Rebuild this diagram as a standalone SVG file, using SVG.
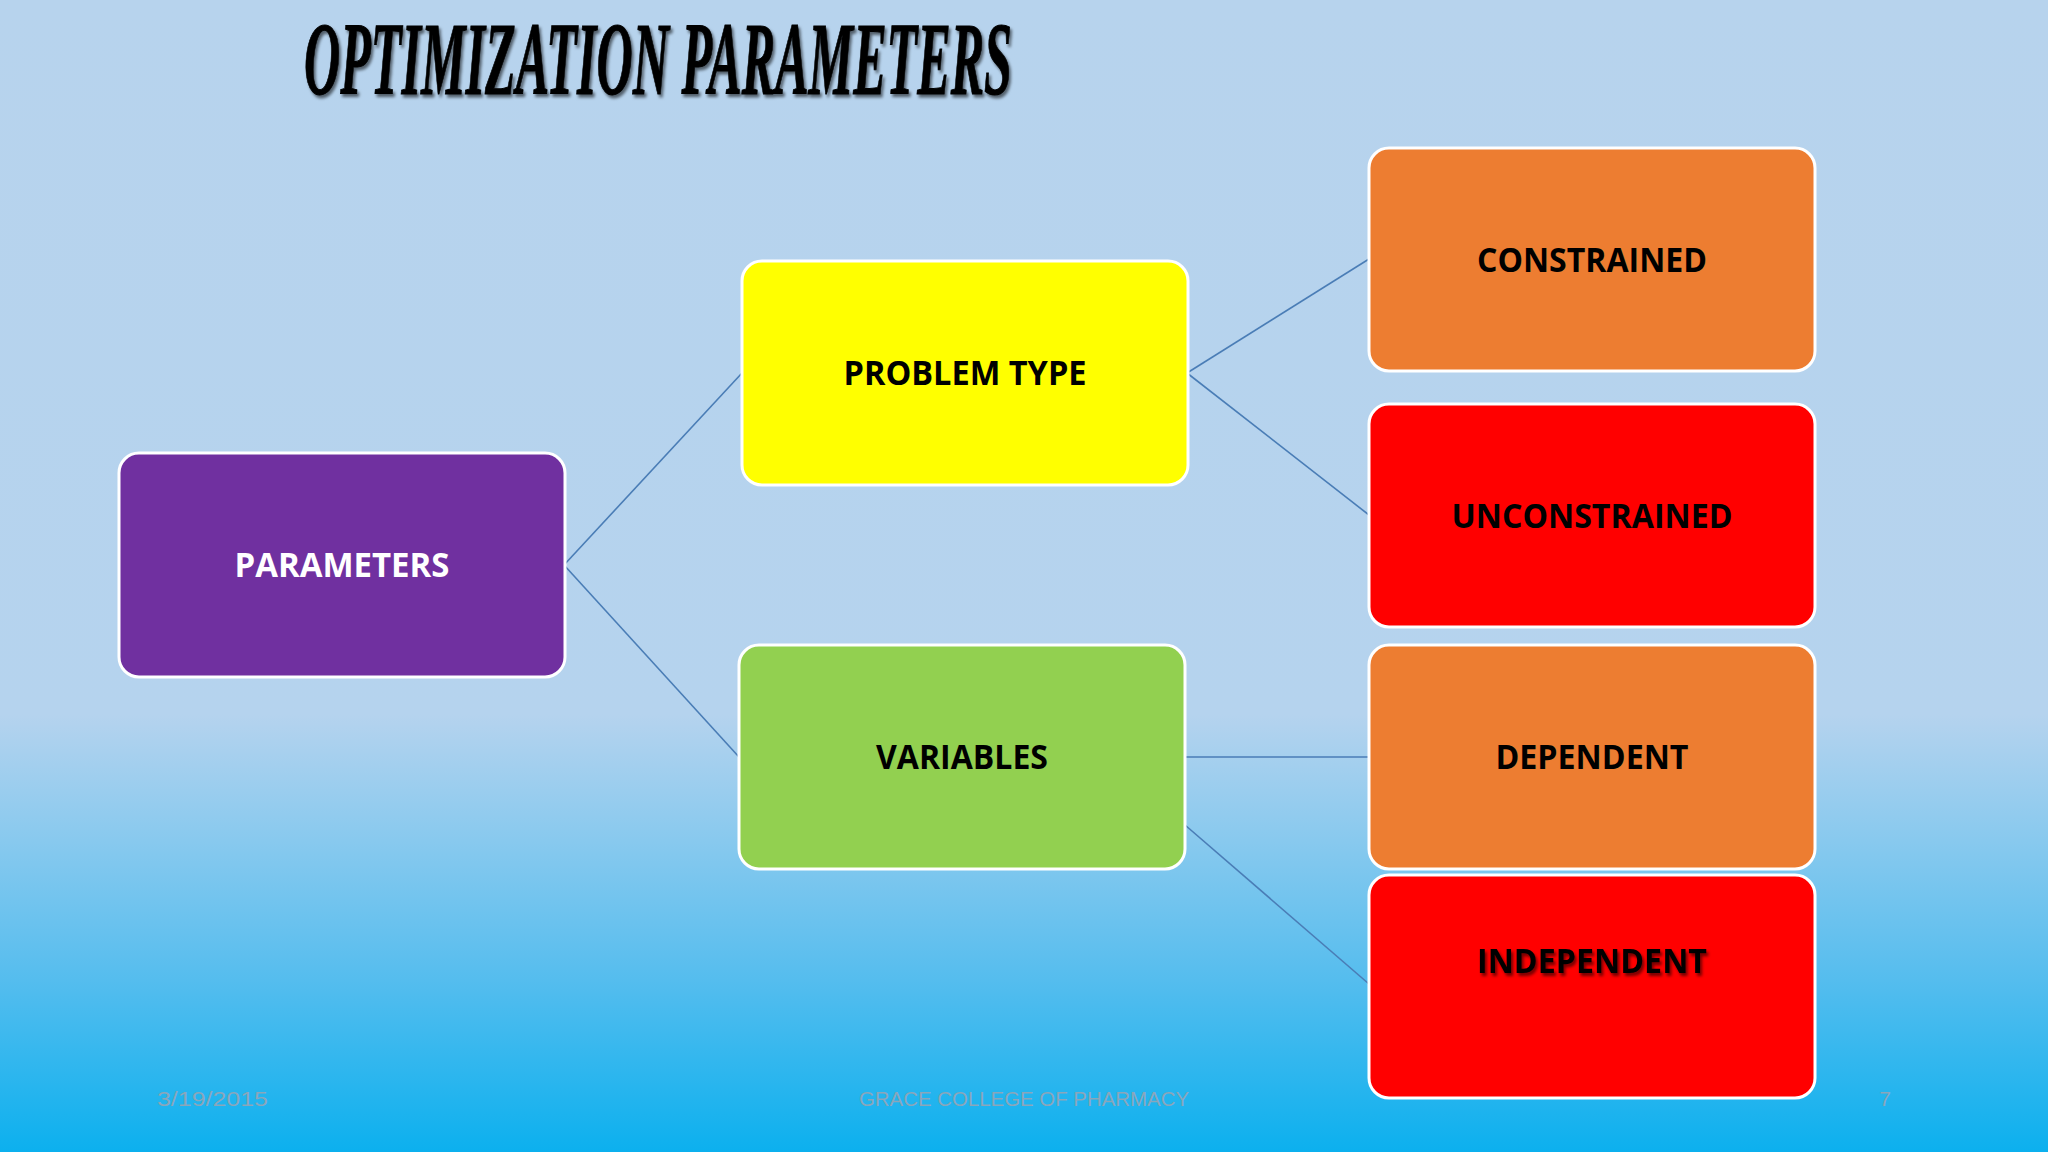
<svg xmlns="http://www.w3.org/2000/svg" width="2048" height="1152" viewBox="0 0 2048 1152">
<defs>
<linearGradient id="bg" x1="0" y1="0" x2="0" y2="1">
<stop offset="0" stop-color="#b7d3ed"/>
<stop offset="0.62" stop-color="#b5d3ee"/>
<stop offset="0.72" stop-color="#8ccaee"/>
<stop offset="0.85" stop-color="#55bdee"/>
<stop offset="1" stop-color="#0cb0ee"/>
</linearGradient>
<filter id="shadow" x="-5%" y="-20%" width="110%" height="140%">
<feGaussianBlur in="SourceAlpha" stdDeviation="1.5"/>
<feOffset dx="2" dy="3" result="o"/>
<feFlood flood-color="#000" flood-opacity="0.55"/>
<feComposite in2="o" operator="in"/>
<feMerge><feMergeNode/><feMergeNode in="SourceGraphic"/></feMerge>
</filter>
</defs>
<style>
.box{stroke:#ffffff;stroke-width:3}
.lbl{font-family:"Open Sans","Liberation Sans",sans-serif;font-weight:bold;font-size:34px;text-anchor:middle;dominant-baseline:central;fill:#000}
.conn{stroke:#4a7db6;stroke-width:1.6;fill:none}
.foot{font-family:"Liberation Sans Narrow","Liberation Sans",sans-serif;font-size:21px;fill:#8aa6bb;dominant-baseline:central}
</style>
<rect x="0" y="0" width="2048" height="1152" fill="url(#bg)"/>
<text x="304" y="94" font-family="Liberation Serif,serif" font-weight="bold" font-style="italic" font-size="104" textLength="708" lengthAdjust="spacingAndGlyphs" fill="#000" stroke="#000" stroke-width="1" filter="url(#shadow)">OPTIMIZATION PARAMETERS</text>
<g id="connectors">
<line class="conn" x1="564" y1="565" x2="742" y2="373"/>
<line class="conn" x1="564" y1="565" x2="739" y2="757"/>
<line class="conn" x1="1187" y1="373" x2="1369" y2="259"/>
<line class="conn" x1="1187" y1="373" x2="1369" y2="515"/>
<line class="conn" x1="1185" y1="757" x2="1369" y2="757"/>
<line class="conn" x1="1185" y1="825" x2="1369" y2="984" stroke-width="1" stroke="#6a9ed2"/>
</g>
<g id="parameters">
<rect class="box" x="119" y="453" width="446" height="224" rx="20" fill="#7030a0"/>
<text class="lbl" x="342" y="564" style="fill:#fff" textLength="215" lengthAdjust="spacingAndGlyphs">PARAMETERS</text>
</g>
<g id="problem-type">
<rect class="box" x="742" y="261" width="446" height="224" rx="20" fill="#ffff00"/>
<text class="lbl" x="965" y="372" textLength="243" lengthAdjust="spacingAndGlyphs">PROBLEM TYPE</text>
</g>
<g id="variables">
<rect class="box" x="739" y="645" width="446" height="224" rx="20" fill="#92d050"/>
<text class="lbl" x="962" y="756" textLength="172" lengthAdjust="spacingAndGlyphs">VARIABLES</text>
</g>
<g id="constrained">
<rect class="box" x="1369" y="148" width="446" height="223" rx="20" fill="#ed7d31"/>
<text class="lbl" x="1592" y="259" textLength="230" lengthAdjust="spacingAndGlyphs">CONSTRAINED</text>
</g>
<g id="unconstrained">
<rect class="box" x="1369" y="404" width="446" height="223" rx="20" fill="#ff0000"/>
<text class="lbl" x="1592" y="515" textLength="281" lengthAdjust="spacingAndGlyphs">UNCONSTRAINED</text>
</g>
<g id="dependent">
<rect class="box" x="1369" y="645" width="446" height="224" rx="20" fill="#ed7d31"/>
<text class="lbl" x="1592" y="756" textLength="193" lengthAdjust="spacingAndGlyphs">DEPENDENT</text>
</g>
<g id="independent">
<rect class="box" x="1369" y="875" width="446" height="223" rx="20" fill="#ff0000"/>
<text class="lbl" x="1592" y="960" textLength="230" lengthAdjust="spacingAndGlyphs" filter="url(#shadow)">INDEPENDENT</text>
</g>
<text class="foot" x="157" y="1098" textLength="111" lengthAdjust="spacingAndGlyphs">3/19/2015</text>
<text class="foot" x="1024" y="1098" text-anchor="middle" textLength="330" lengthAdjust="spacingAndGlyphs">GRACE COLLEGE OF PHARMACY</text>
<text class="foot" x="1885" y="1098" text-anchor="middle">7</text>
</svg>
